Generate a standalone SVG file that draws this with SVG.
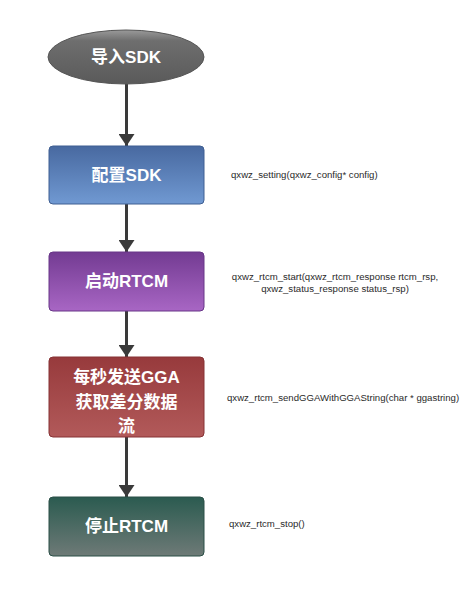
<svg xmlns="http://www.w3.org/2000/svg" width="474" height="602" viewBox="0 0 474 602">
<defs>
<linearGradient id="gGray" x1="0" y1="0" x2="0" y2="1"><stop offset="0" stop-color="#9a9a9a"/><stop offset="0.2" stop-color="#6e6e6e"/><stop offset="1" stop-color="#5a5a5a"/></linearGradient>
<linearGradient id="gBlue" x1="0" y1="0" x2="0" y2="1"><stop offset="0" stop-color="#4869a0"/><stop offset="1" stop-color="#7099d2"/></linearGradient>
<linearGradient id="gPurple" x1="0" y1="0" x2="0" y2="1"><stop offset="0" stop-color="#733b92"/><stop offset="1" stop-color="#a866c4"/></linearGradient>
<linearGradient id="gRed" x1="0" y1="0" x2="0" y2="1"><stop offset="0" stop-color="#973a3c"/><stop offset="1" stop-color="#b25a5a"/></linearGradient>
<linearGradient id="gGreen" x1="0" y1="0" x2="0" y2="1"><stop offset="0" stop-color="#2b5b50"/><stop offset="1" stop-color="#6e7a77"/></linearGradient>
<marker id="arr" viewBox="0 0 12 16" refX="12" refY="8" markerWidth="12" markerHeight="16" markerUnits="userSpaceOnUse" orient="auto"><path d="M0,0 L12,8 L0,16 z" fill="#3a3a3a"/></marker>
</defs>
<style>
.node{stroke-width:1}
.lbl{font-family:"Liberation Sans","Noto Sans CJK SC",sans-serif;font-weight:bold;font-size:17px;fill:#ffffff;text-anchor:middle}
.api{font-family:"Liberation Sans",Arial,sans-serif;font-size:9.6px;fill:#2a2a2a}
.conn{stroke:#3a3a3a;stroke-width:3;fill:none}
</style>
<rect width="474" height="602" fill="#ffffff"/>
<g id="connectors">
<line class="conn" x1="126.5" y1="84" x2="126.5" y2="146" marker-end="url(#arr)"/>
<line class="conn" x1="126.5" y1="204" x2="126.5" y2="252" marker-end="url(#arr)"/>
<line class="conn" x1="126.5" y1="311" x2="126.5" y2="357" marker-end="url(#arr)"/>
<line class="conn" x1="126.5" y1="437" x2="126.5" y2="497" marker-end="url(#arr)"/>
</g>
<g id="n-import">
<ellipse cx="126" cy="57" rx="78" ry="27" fill="url(#gGray)" stroke="#555555"/>
<text class="lbl" x="126" y="63">导入SDK</text>
</g>
<g id="n-config">
<rect x="49" y="146" width="155" height="58" rx="4" fill="url(#gBlue)" stroke="#3f5f92"/>
<text class="lbl" x="126.5" y="181">配置SDK</text>
</g>
<g id="n-start">
<rect x="49" y="252" width="155" height="59" rx="4" fill="url(#gPurple)" stroke="#683688"/>
<text class="lbl" x="126.5" y="287">启动RTCM</text>
</g>
<g id="n-send">
<rect x="49" y="357" width="155" height="80" rx="4" fill="url(#gRed)" stroke="#863234"/>
<text class="lbl" x="126.5" y="383">每秒发送GGA</text>
<text class="lbl" x="126.5" y="408">获取差分数据</text>
<text class="lbl" x="126.5" y="432">流</text>
</g>
<g id="n-stop">
<rect x="49" y="497" width="155" height="59" rx="4" fill="url(#gGreen)" stroke="#2a4f47"/>
<text class="lbl" x="126.5" y="532">停止RTCM</text>
</g>
<g id="api-texts">
<text class="api" x="231" y="178">qxwz_setting(qxwz_config* config)</text>
<text class="api" x="335" y="280" text-anchor="middle">qxwz_rtcm_start(qxwz_rtcm_response rtcm_rsp,</text>
<text class="api" x="335" y="292" text-anchor="middle">qxwz_status_response status_rsp)</text>
<text class="api" x="227" y="401">qxwz_rtcm_sendGGAWithGGAString(char * ggastring)</text>
<text class="api" x="229" y="527">qxwz_rtcm_stop()</text>
</g>
</svg>
